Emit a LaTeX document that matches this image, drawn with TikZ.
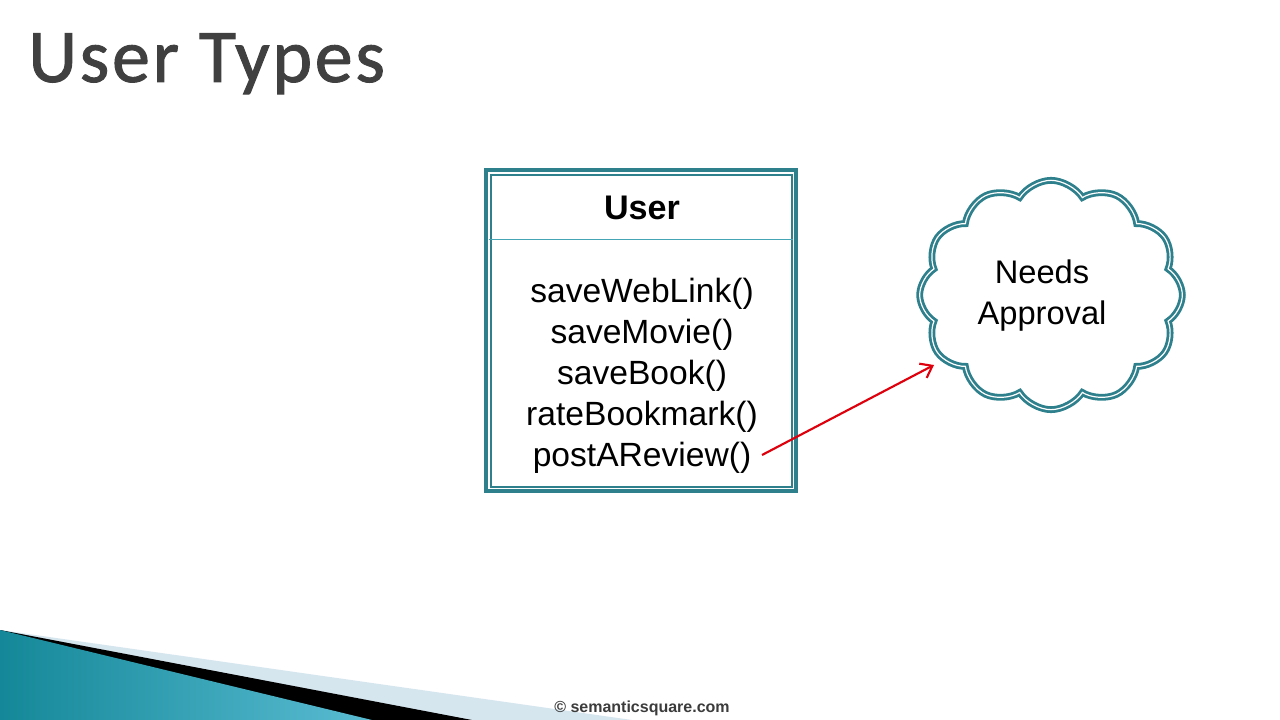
\documentclass[tikz,border=0pt]{standalone}
\usepackage{fontspec}
\setmainfont{Liberation Sans}
\newfontfamily\titlefont[LetterSpace=3.5,FakeBold=1.2]{Carlito}
\usetikzlibrary{shapes.symbols,arrows.meta}
\definecolor{tealc}{RGB}{46,128,141}
\definecolor{dividerc}{RGB}{70,165,180}
\definecolor{titlegrey}{RGB}{64,64,64}
\definecolor{footgrey}{RGB}{60,60,60}
\definecolor{arrowred}{RGB}{222,0,12}
\definecolor{lightwedge}{RGB}{214,230,238}
\definecolor{tealdark}{RGB}{20,136,152}
\definecolor{teallight}{RGB}{90,188,210}
\tikzset{
  methodtext/.style={font=\fontsize{25.2}{30.75}\selectfont, align=center, inner sep=0pt},
  headertext/.style={font=\fontsize{25.6}{30}\selectfont\bfseries, inner sep=0pt},
  cloudtext/.style={font=\fontsize{24.5}{30.75}\selectfont, align=center, inner sep=0pt},
  cloudbox/.style={cloud, cloud puffs=12, cloud puff arc=115, aspect=1.15, draw=tealc, line width=2.1pt, double=white, double distance=0.9pt, minimum width=197pt, minimum height=172pt},
  link/.style={draw=arrowred, line width=1.6pt, -{Straight Barb[length=8pt,width=12pt,line width=1.6pt]}},
}
\begin{document}
\begin{tikzpicture}[x=0.75pt,y=-0.75pt]
\useasboundingbox[fill=white] (0,0) rectangle (1280,720);
% bottom-left decoration
\fill[lightwedge] (0,630) -- (632,720) -- (0,720) -- cycle;
\fill[black] (0,630) -- (472,720) -- (0,720) -- cycle;
\shade[left color=tealdark, right color=teallight] (0,630) -- (372,720) -- (0,720) -- cycle;
% title
\node (title) [anchor=base west, inner sep=0pt, text=titlegrey] at (28,82) {\titlefont\fontsize{57}{60}\selectfont User Types};
% class box
\draw[tealc, line width=3.2pt] (486,170) rectangle (796,491);
\draw[tealc, line width=0.9pt] (491,175) rectangle (792,487);
\draw[dividerc, line width=0.9pt] (489,239.5) -- (793,239.5);
\node (header) [headertext] at (642,208) {User};
\node (methods) [methodtext] at (642,376) {saveWebLink()\\saveMovie()\\saveBook()\\rateBookmark()\\postAReview()};
% cloud
\node (cloud) [cloudbox] at (1051,295) {};
\node (cloudlabel) [cloudtext] at (1042,296) {Needs\\Approval};
% arrow
\coordinate (arrowstart) at (762,455);
\coordinate (arrowend) at (934,365);
\draw[link] (arrowstart) -- (arrowend);
% footer
\node (footer) [font=\fontsize{12}{14}\selectfont\bfseries, text=footgrey, inner sep=0pt] at (642,708) {© semanticsquare.com};
\end{tikzpicture}
\end{document}
